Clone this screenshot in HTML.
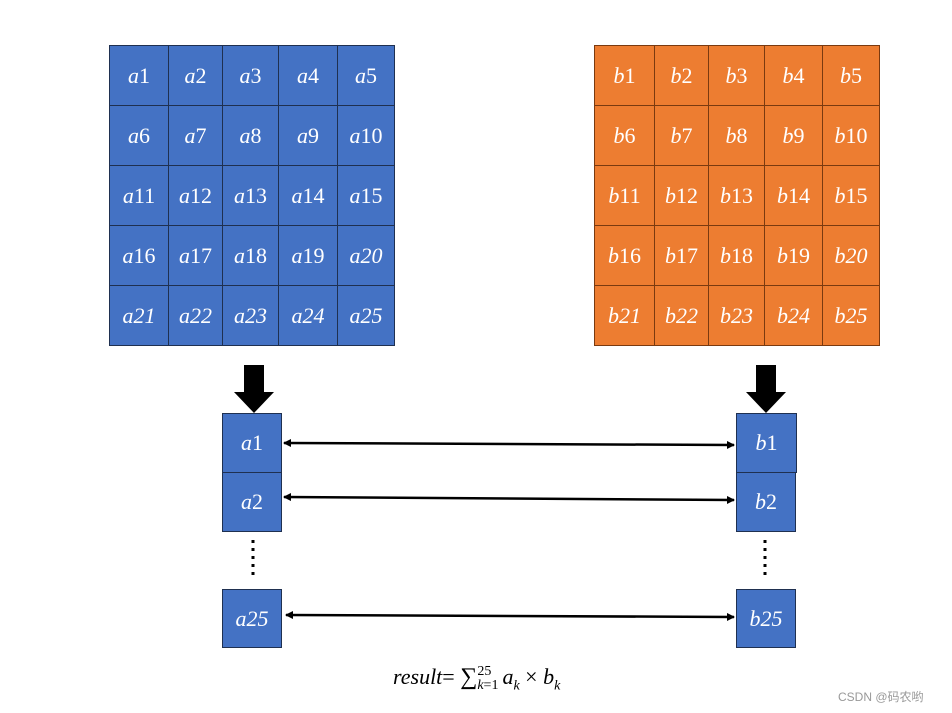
<!DOCTYPE html>
<html><head><meta charset="utf-8"><style>
body{margin:0;background:#fff;width:952px;height:713px;position:relative;overflow:hidden;font-family:"Liberation Serif",serif}
.c{position:absolute;box-sizing:border-box;border:1px solid #1f3050;color:#fff;font-size:22px;font-style:italic;display:flex;align-items:center;justify-content:center}
.a{background:#4472c4}.b{background:#ed7d31;border-color:#7a3a10}
.n{font-style:normal}
</style></head><body>
<div id="g"></div>
<svg width="952" height="713" style="position:absolute;left:0;top:0">
<defs><marker id="m" markerWidth="8" markerHeight="8" refX="7" refY="4" orient="auto-start-reverse" markerUnits="userSpaceOnUse"><path d="M0,0 L8,4 L0,8 z" fill="#000"/></marker></defs>
<path d="M244,365 H264 V392 H274 L254,413 L234,392 H244 Z" fill="#000"/>
<path d="M756,365 H776 V392 H786 L766,413 L746,392 H756 Z" fill="#000"/>
<line x1="284" y1="443" x2="734" y2="445" stroke="#000" stroke-width="2.5" marker-start="url(#m)" marker-end="url(#m)"/>
<line x1="284" y1="497" x2="734" y2="500" stroke="#000" stroke-width="2.5" marker-start="url(#m)" marker-end="url(#m)"/>
<line x1="286" y1="615" x2="734" y2="617" stroke="#000" stroke-width="2.5" marker-start="url(#m)" marker-end="url(#m)"/>
<line x1="253" y1="540" x2="253" y2="578" stroke="#000" stroke-width="3" stroke-dasharray="3,5"/>
<line x1="765" y1="540" x2="765" y2="578" stroke="#000" stroke-width="3" stroke-dasharray="3,5"/>
</svg>
<script>
var xs=[109,168,222,278,337,394],ys=[45,105,165,225,285,345],bx=[594,654,708,764,822,879],h='';
var sp=function(p,i){return i>=20?'<span>'+p+i+'</span>':p+'<span class="n">'+i+'</span>';};
for(var r=0;r<5;r++)for(var c=0;c<5;c++){var k=r*5+c+1;
h+='<div class="c a" style="left:'+xs[c]+'px;top:'+ys[r]+'px;width:'+(xs[c+1]-xs[c]+1)+'px;height:61px">'+sp('a',k)+'</div>';
h+='<div class="c b" style="left:'+bx[c]+'px;top:'+ys[r]+'px;width:'+(bx[c+1]-bx[c]+1)+'px;height:61px">'+sp('b',k)+'</div>';}
h+='<div class="c a" style="left:222px;top:413px;width:60px;height:60px">'+sp('a',1)+'</div>';
h+='<div class="c a" style="left:222px;top:472px;width:60px;height:60px">'+sp('a',2)+'</div>';
h+='<div class="c a" style="left:222px;top:589px;width:60px;height:59px">a25</div>';
h+='<div class="c a" style="left:736px;top:413px;width:61px;height:60px">'+sp('b',1)+'</div>';
h+='<div class="c a" style="left:736px;top:472px;width:60px;height:60px">'+sp('b',2)+'</div>';
h+='<div class="c a" style="left:736px;top:589px;width:60px;height:59px">b25</div>';
document.getElementById('g').innerHTML=h;
</script>
<div style="position:absolute;left:393px;top:664px;font-size:22px;white-space:nowrap"><i>result</i>= <span style="font-size:24px">∑</span><span style="display:inline-block;vertical-align:middle;font-size:14px;line-height:14px;margin-right:4px"><span style="display:block">25</span><span style="display:block"><i>k</i>=1</span></span><i>a<sub style="font-size:14px">k</sub></i> × <i>b<sub style="font-size:14px">k</sub></i></div>
<div style="position:absolute;left:838px;top:688px;font-size:12px;color:#999;font-family:'Liberation Sans','Noto Sans CJK SC',sans-serif">CSDN @码农哟</div>
</body></html>
